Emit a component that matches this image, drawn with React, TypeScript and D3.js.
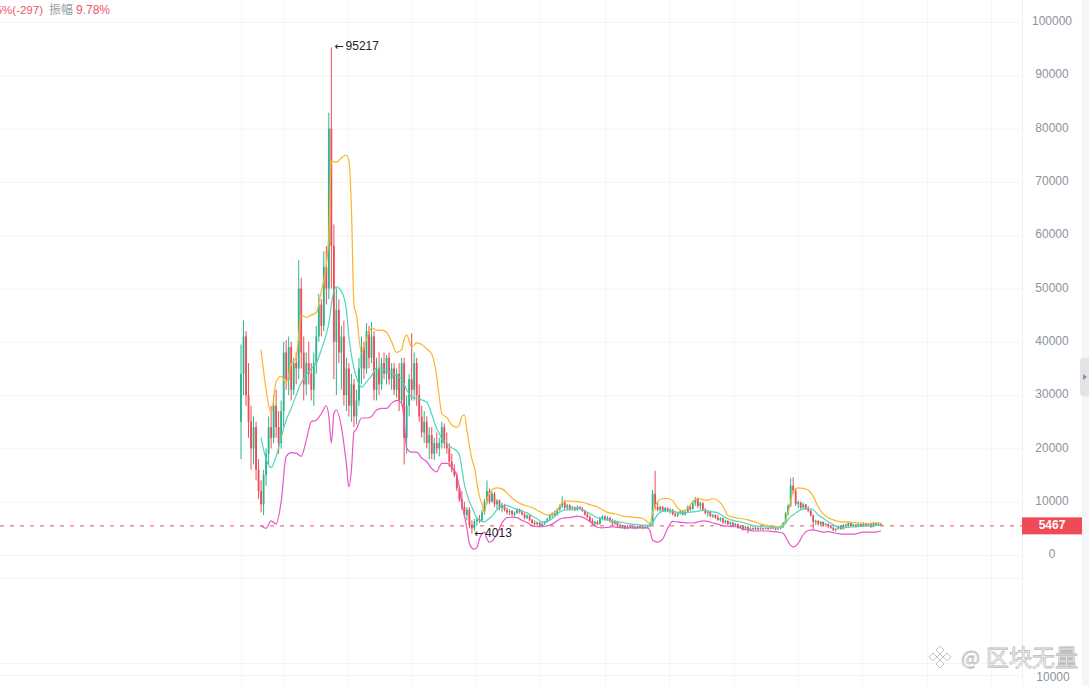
import React from 'react';
import * as d3 from 'd3';

const W = 1089;
const H = 686;

// price data in thousands (k)
const opens = [
  25,34,41,30,25,20,24,16,12,9.5,15,19,24,22,28,24,21,27,38,33,39,31,36,35,50,38,32,36,34,31,36,41,47,43,54,50,80,58,40,46,
  38,41,30,35,28,32,26,29,35,39,35,42,37,41,31,35,32,36,34,37,33,35,31,34,29,36,22,28,33,31,36,30,26,23,25,21,22.5,19,21,20,
  21,24,21,20,17.5,16,15,12.5,10.5,9,7.5,8.5,5.6,5,6.3,6.8,6.5,8,10,12,10,11.5,9.5,10.2,8.8,9.4,8.5,8,8.3,7.6,
  7.9,8.6,8,7.6,7,7.4,6.6,6,5.8,6.1,5.5,5.9,6.2,6.8,7.4,7.8,7.5,8.5,9.2,9.8,8.9,9.3,8.6,8.9,8.5,9,8.7,8.3,7.6,7.1,
  6.4,5.9,6.2,5.8,6.9,7.2,6.6,7,6.3,5.9,6.3,5.5,5.3,5.5,5,5.4,5.2,5.3,5,5.4,5.1,5.3,5.1,5.5,5.8,11.5,9,8.5,9,8.3,
  8.8,8.2,8.5,7.7,7.4,7.8,8.2,7.6,8.1,9,8.6,9.8,10.5,9.2,9.7,8.5,7.9,8.1,7.3,7.5,7,6.6,6.9,6.1,6.4,5.8,6.1,5.5,5.8,5.1,
  5.4,4.9,5.3,4.7,5,4.8,5.1,4.8,5,4.9,5.1,4.9,5.2,5,4.8,5,5.2,6,7.8,9.3,13,12,9.6,9.9,8.9,9.5,8.7,8.3,7.4,6.2,
  6.4,5.8,6.2,5.6,5.8,5.3,5.1,4.7,4.9,5.4,4.9,5.6,5.4,6,5.5,5.7,5.3,5.8,5.4,5.9,5.5,5.8,5.3,6,5.6,5.764,
];
const highs = [
  39.5,44,42,36,28,26,25,18,14,16,20,26,28,30,31,27,29,40,40.3,41,40,37,38,55.3,52,41,38,40,36,38,43,49,48,57,58,83,95.217,62,50,48,
  43,44,37,36,34,33,31,37,41,40,43.5,43,43.7,42,37,38,37,38,37.5,38,36,36,35,36,37,37,30,34,41.6,38,37,32,28,27,26,24,24,22,23,22,
  25,24.7,23,21,19,17,15.5,13,12,10,9,9,6.5,6.8,7.2,7.5,8.5,10.5,14,12.5,12,11.8,10.5,10.4,9.8,9.6,8.9,8.6,8.4,8.2,
  8.8,8.7,8.5,8,7.6,7.5,6.8,6.5,6.3,6.2,6.1,6.4,7,7.6,8,8.3,8.8,9.5,11,10.3,9.6,9.5,9.2,9.1,9.3,9.2,9,8.5,8,7.4,
  6.9,6.4,6.5,7.2,7.5,7.4,7.3,7.1,6.8,6.6,6.4,5.9,5.7,5.6,5.6,5.7,5.5,5.5,5.5,5.6,5.4,5.5,5.6,6,12.2,15.8,10,9.3,9.2,9,
  8.9,8.7,8.6,8.2,8,8.4,8.4,8.3,9.3,9.3,10.2,10.9,10.8,10,9.9,8.8,8.4,8.2,7.7,7.6,7.5,7.1,7,6.6,6.5,6.3,6.2,6,5.9,5.6,
  5.5,5.5,5.4,5.2,5.2,5.3,5.2,5.2,5.1,5.2,5.2,5.3,5.3,5.1,5.2,5.3,6.2,8.1,9.5,14.4,14.6,12.5,10.2,10,9.8,9.6,9.2,8.5,7.6,6.6,
  6.5,6.4,6.3,6,5.9,5.6,5.3,5.1,5.6,5.5,5.8,5.9,6.2,6.1,5.9,5.8,6,5.9,6.1,6,6,6.1,6.2,6.1,6.1,5.994,
];
const lows = [
  18,30,28,22,16,17,14,10.5,8,7.5,13,17,20,21,22,19,20,24,31,30,29,30,32,33,35,29,30,32,29,28,34,40,41,42,47,48,50,33,30,36,
  31,28,27,26,25,24,24.5,28,32,33,34,35,36,29,29,30,31,33,32,32,31,30,29.5,27,28,17,19,26,29,29,28,25,22,21,20,18,18,17.8,19,18.5,
  20,20,19,16.5,15.5,14.6,12,10,8.5,7,6.5,5,4.013,4.5,5.5,6,6.2,7.5,9.5,9.5,9.8,9,8.5,8.4,8,8.2,7.6,7.5,7.3,7.2,
  7.7,7.8,7.4,6.7,6.7,6.4,5.8,5.5,5.3,5.2,5.3,5.6,6,6.5,7,7.2,7.4,8.2,8.8,8.5,8.4,8.3,8.3,8.2,8.3,8.4,8.1,7.4,6.9,6.2,
  5.6,5.3,5.6,5.7,6.5,6.4,6.4,6.1,5.6,5.6,5.2,5,5,4.8,4.8,5.1,4.9,4.8,4.9,5,4.8,4.9,5,5.2,5.7,8.5,8.2,8,8.1,8,
  8,7.7,7.4,7.1,7.1,7.6,7.4,7.4,8,8.2,8.5,9.2,8.8,8.5,8.2,7.6,7.2,7.1,6.9,6.8,6.4,6.2,5.9,5.8,5.6,5.5,5.3,5.3,4.9,4.9,
  4.6,4.8,4.1,4.5,4.6,4.7,4.6,4.7,4.6,4.8,4.7,4.8,4.8,4.6,4.7,4.8,5.1,5.9,7.5,9,11.5,9.2,8.8,8.6,8.7,8.5,8,7.2,4.8,5.6,
  5.5,5.6,5.4,5.3,5.1,4.9,4.5,4.4,4.8,4.7,4.8,5.2,5.3,5.3,5.2,5.1,5.2,5.2,5.3,5.3,5.3,5.1,5.2,5.4,5.4,5.43,
];
const closes = [
  34,41,30,25,20,24,16,12,9.5,15,19,24,22,28,24,21,27,38,33,39,31,36,35,50,38,32,36,34,31,36,41,47,43,54,50,80,58,40,46,38,
  41,30,35,28,32,26,29,35,39,35,42,37,41,31,35,32,36,34,37,33,35,31,34,29,36,22,28,33,31,36,30,26,23,25,21,22.5,19,21,20,21,
  24,21,20,17.5,16,15,12.5,10.5,9,7.5,8.5,5.6,5,6.3,6.8,6.5,8,10,12,10,11.5,9.5,10.2,8.8,9.4,8.5,8,8.3,7.6,7.9,
  8.6,8,7.6,7,7.4,6.6,6,5.8,6.1,5.5,5.9,6.2,6.8,7.4,7.8,7.5,8.5,9.2,9.8,8.9,9.3,8.6,8.9,8.5,9,8.7,8.3,7.6,7.1,6.4,
  5.9,6.2,5.8,6.9,7.2,6.6,7,6.3,5.9,6.3,5.5,5.3,5.5,5,5.4,5.2,5.3,5,5.4,5.1,5.3,5.1,5.5,5.8,11.5,9,8.5,9,8.3,8.8,
  8.2,8.5,7.7,7.4,7.8,8.2,7.6,8.1,9,8.6,9.8,10.5,9.2,9.7,8.5,7.9,8.1,7.3,7.5,7,6.6,6.9,6.1,6.4,5.8,6.1,5.5,5.8,5.1,5.4,
  4.9,5.3,4.7,5,4.8,5.1,4.8,5,4.9,5.1,4.9,5.2,5,4.8,5,5.2,6,7.8,9.3,13,12,9.6,9.9,8.9,9.5,8.7,8.3,7.4,6.2,6.4,
  5.8,6.2,5.6,5.8,5.3,5.1,4.7,4.9,5.4,4.9,5.6,5.4,6,5.5,5.7,5.3,5.8,5.4,5.9,5.5,5.8,5.3,6,5.6,5.764,5.467,
];

// Bollinger band readings (k), at candle steps bandT
const bandT = [
  8,10,12,14,16,18,20,22,24,26,28,30,32,34,35,36,37,38,40,42,43,44,45,46,48,50,52,54,56,58,60,62,64,65,66,68,70,72,74,76,
  78,79,80,82,84,86,87,88,89,90,91,92,93,94,95,96,97,98,99,100,102,104,106,108,110,112,114,116,118,120,122,124,126,128,130,132,134,136,138,140,
  142,144,146,148,150,152,154,156,158,160,162,163,164,166,168,170,172,174,176,178,180,182,184,186,188,190,192,194,196,198,200,202,204,206,208,210,212,214,216,217,
  218,219,220,222,224,226,228,230,232,234,236,238,240,242,244,246,248,250,252,254,255,
];
const bandUpper = [
  38.5,31,26.6,32.5,33.5,32.3,35.8,37,45,44.6,45,45.5,49.5,54.5,60,74,73.8,73.7,74.5,75,74,65,47,45,37.9,40.5,42.6,42.2,42.2,41.8,40,38,38.5,40.5,41.3,39,39.8,39.5,38.7,37.7,
  33.4,29.6,26.5,25.8,24.4,24,24.4,26,26.3,23.5,20.5,18,16.5,13.5,11,9.5,7.9,10.5,11.5,12.3,12.6,12.4,11.6,10.7,10,9.5,9.2,8.9,8.4,7.9,7.5,7.7,8.5,9.8,10.1,10.1,10,9.9,9.6,9.3,
  9,8.5,8,7.8,7.6,7.3,7.2,7.1,7,6.9,6.2,6,8,10,10.6,10.6,10.2,8.8,8.3,8.8,10,10.6,10.4,10.3,10.6,10.2,9.2,7.4,7.1,6.9,6.8,6.6,6.3,6,5.7,5.5,5.4,5.3,5.6,6.5,
  8,10,12,12.6,12.5,12.2,11,9,7.7,7,6.6,6.3,6.2,6.2,6.1,6,6,5.8,6,6,6,
];
const bandMid = [
  22,18,16.4,18.5,22,25.3,27.5,30,32.3,33.8,35,36,38.5,41.5,43.5,47,49.5,50.3,49.5,46,41,37.5,35,33.3,31.5,32.5,33.6,35.1,35,34.5,34.2,33.6,33,32,31,29.7,29.4,29.1,28.7,26.4,
  23.7,22.8,21.8,20.8,20.1,19.5,18.8,16.2,13.3,11.5,10,9,7.9,6.8,6.5,6.3,6.2,6.5,6.9,7.3,8.5,9.2,9.3,8.9,8.5,8.2,7.9,7.3,6.8,6.2,6.3,6.8,7.7,8.3,8.5,8.7,8.8,8.5,8,7.5,
  7,6.8,6.6,6.4,6.2,6.1,5.9,5.8,5.7,5.6,5.6,5.6,6.1,7.6,8.2,8.3,8.2,8,7.9,8,8.1,8.2,8.4,8.3,8.1,7.9,7.3,6.8,6.5,6.3,6.1,5.8,5.5,5.4,5.3,5.3,5.2,5.1,5.4,6,
  6.7,7.2,7.5,8.2,8.6,8.7,8.5,7.5,6.9,6.2,5.7,5.2,5.1,5.2,5.3,5.4,5.4,5.5,5.6,5.6,5.6,
];
const bandLower = [
  5.5,5,6.4,5.8,10,18.5,19.2,19.1,18.5,21.5,25,25.3,26.5,28,26,21,26.5,27.2,24,17,12.8,16,23,23.6,25.7,25.7,26,27.2,27.5,27.5,28.5,29,28.5,25.3,20,19.3,19.3,18.2,17.5,16.2,
  15.6,16.5,17.2,17.2,16.5,14.8,12.8,9.5,7.5,5,2.2,1.3,1.1,1.4,3,4,4.3,3,2.4,2.6,4,6,7,7.1,7,6.5,6.1,5.5,5.3,5.3,5.5,5.8,6.4,6.9,7,7.1,7.3,7.1,6.6,5.9,
  5.2,5.1,5.2,5.3,5.2,5.1,5.1,5.1,5.1,5.1,5.1,4.5,2.8,2.4,3,5,6.3,6.2,6.1,6,6,6.2,6.4,6.3,6,5.8,5.5,5.4,5.3,5.3,4.8,4.7,4.5,4.5,4.5,4.5,4.4,4.3,4.1,3.4,
  2.5,1.8,1.5,2.2,3.8,4.6,4.7,4.5,4.3,4.4,4.2,4,3.9,3.9,3.9,4.1,4.3,4.3,4.3,4.4,4.5,
];

const yTicks = [0, 10000, 20000, 30000, 40000, 50000, 60000, 70000, 80000, 90000, 100000];
const timeGrid = [0, 16.7, 42.3, 68, 93.6, 119.3, 145, 170.6, 196.3, 221.9, 247.6, 273.2, 298.9];
const lastPrice = 5467;
const headerChange = '-5.15%(-297)';
const headerAmpLabel = '振幅';
const headerAmp = '9.78%';
const watermarkText = '区块无量';
const volumeAxisLabel = '10000';

const UP = '#2bb58c';
const DOWN = '#ef4b57';
const FONT = "'Liberation Sans', Arial, 'Noto Sans CJK SC', sans-serif";

export default function App() {
  const K = 1000;
  const n = opens.length;
  const x = d3.scaleLinear().domain([0, n - 1]).range([241, 881]);
  const y = d3.scaleLinear().domain([0, 100000]).range([555, 22]);
  const plotRight = 1022;

  const line = (vals: number[]) =>
    d3
      .line<number>()
      .x((_, k) => x(bandT[k]))
      .y((v) => y(v * K))
      .curve(d3.curveMonotoneX)(vals) || '';

  const hiIdx = d3.maxIndex(highs);
  const loIdx = d3.minIndex(lows);

  return (
    <svg
      width={W}
      height={H}
      style={{ position: 'absolute', left: 0, top: 0, background: '#fff', fontFamily: FONT }}
    >
      <rect x={0} y={0} width={W} height={H} fill="#fff" />
      {/* horizontal grid */}
      {yTicks.map((t) => (
        <line key={'h' + t} x1={0} x2={plotRight} y1={y(t) + 0.5} y2={y(t) + 0.5} stroke="#f3f4f5" />
      ))}
      <line x1={0} x2={plotRight} y1={578.5} y2={578.5} stroke="#f3f4f5" />
      <line x1={0} x2={plotRight} y1={663.5} y2={663.5} stroke="#f3f4f5" />
      <line x1={0} x2={plotRight} y1={675.5} y2={675.5} stroke="#f3f4f5" />
      {/* vertical grid */}
      {timeGrid.map((t) => (
        <line key={'v' + t} x1={Math.round(x(t)) + 0.5} x2={Math.round(x(t)) + 0.5} y1={0} y2={H} stroke="#f5f6f7" />
      ))}
      <line x1={plotRight + 0.5} x2={plotRight + 0.5} y1={0} y2={H} stroke="#eef0f2" />

      {/* header */}
      <text x={43} y={14} fontSize={11.5} fill="#ef5668" textAnchor="end">{headerChange}</text>
      <text x={49} y={14} fontSize={12} fill="#9a9ea6" fontFamily="'Noto Sans CJK SC', sans-serif">{headerAmpLabel}</text>
      <text x={76} y={14} fontSize={12} fill="#ef5668">{headerAmp}</text>

      {/* last price dashed line */}
      <line x1={0} x2={plotRight} y1={y(lastPrice)} y2={y(lastPrice)} stroke="#e8505c" strokeDasharray="4,6" strokeWidth={1} />

      {/* candles */}
      {opens.map((o, i) => {
        const c = closes[i];
        const up = c >= o;
        const col = up ? UP : DOWN;
        const cx = x(i);
        const top = y(Math.max(o, c) * K);
        const bot = y(Math.min(o, c) * K);
        return (
          <g key={'c' + i}>
            <line x1={cx} x2={cx} y1={y(highs[i] * K)} y2={y(lows[i] * K)} stroke={col} strokeWidth={1} />
            <rect x={cx - 0.9} y={top} width={1.8} height={Math.max(1, bot - top)} fill={col} />
          </g>
        );
      })}

      {/* bands */}
      <path d={line(bandUpper)} fill="none" stroke="#fbb52a" strokeWidth={1.2} />
      <path d={line(bandMid)} fill="none" stroke="#4fd6be" strokeWidth={1.2} />
      <path d={line(bandLower)} fill="none" stroke="#e757c6" strokeWidth={1.2} />

      {/* max / min annotations */}
      <text x={x(hiIdx) + 3} y={y(highs[hiIdx] * K)} fontSize={12} fill="#222" dominantBaseline="middle">
        <tspan fontFamily="'DejaVu Sans', sans-serif" fontSize={11}>←</tspan>
        <tspan dx={2}>{Math.round(highs[hiIdx] * K)}</tspan>
      </text>
      <text x={x(loIdx) + 2} y={y(lows[loIdx] * K)} fontSize={12} fill="#222" dominantBaseline="middle">
        <tspan fontFamily="'DejaVu Sans', sans-serif" fontSize={11}>←</tspan>
        <tspan dx={2}>{Math.round(lows[loIdx] * K)}</tspan>
      </text>

      {/* y axis labels */}
      {yTicks.map((t) => (
        <text key={'t' + t} x={1052} y={y(t)} fontSize={12} fill="#8e939b" textAnchor="middle" dominantBaseline="middle">
          {t}
        </text>
      ))}

      {/* last price label */}
      <rect x={1022} y={y(lastPrice) - 8.5} width={60} height={17} fill="#ef4b57" />
      <text x={1052} y={y(lastPrice)} fontSize={12} fontWeight="bold" fill="#fff" textAnchor="middle" dominantBaseline="middle">
        {lastPrice}
      </text>

      {/* right side strip and tab */}
      <rect x={1082} y={0} width={7} height={H} fill="#f4f5f7" />
      <path d="M1089,358 L1083,358 Q1080,358 1080,361 L1080,393 Q1080,396 1083,396 L1089,396 Z" fill="#e2e4e8" />
      <path d="M1083,374 L1087,377 L1083,380 Z" fill="#8d9199" />

      {/* watermark */}
      <g stroke="#bcbcbc" strokeWidth={0.9} fill="#fff">
        <path d="M940,646 L944,650 L940,654 L936,650 Z" />
        <path d="M940,660 L944,664 L940,668 L936,664 Z" />
        <path d="M933,653 L937,657 L933,661 L929,657 Z" />
        <path d="M947,653 L951,657 L947,661 L943,657 Z" />
        <path d="M940,654 L943,657 L940,660 L937,657 Z" />
      </g>
      <text x={961} y={665} fontSize={20} fill="#fff" stroke="#bcbcbc" strokeWidth={0.8} fontFamily="'Noto Sans CJK SC', sans-serif">@</text>
      <text x={986} y={666} fontSize={23} fill="#fff" stroke="#bcbcbc" strokeWidth={0.8} fontFamily="'Noto Sans CJK SC', sans-serif">
        {watermarkText}
      </text>
      <text x={1053} y={678} fontSize={12} fill="#8e939b" textAnchor="middle" dominantBaseline="middle">
        {volumeAxisLabel}
      </text>
    </svg>
  );
}
